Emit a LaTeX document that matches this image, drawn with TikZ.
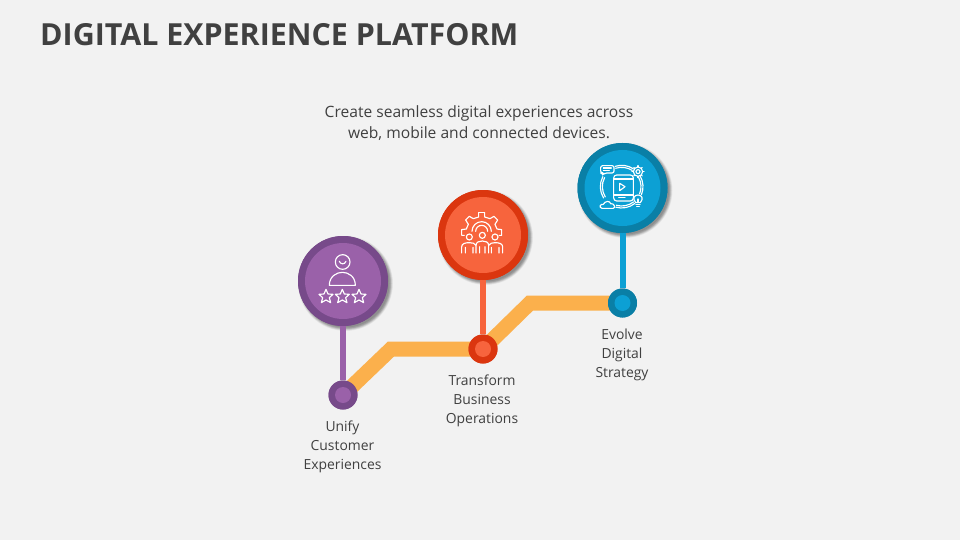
\documentclass[tikz,border=0pt]{standalone}
\usepackage{fontspec}
\setmainfont{Open Sans}
\usetikzlibrary{calc}
\definecolor{bgc}{HTML}{F2F2F2}
\definecolor{txt}{HTML}{404040}
\definecolor{pathc}{HTML}{FBB04C}
\definecolor{purO}{HTML}{774A8A}
\definecolor{purI}{HTML}{9A61A9}
\definecolor{redO}{HTML}{DB360F}
\definecolor{redI}{HTML}{F7643D}
\definecolor{bluO}{HTML}{0A7FA6}
\definecolor{bluI}{HTML}{0CA0D4}
\tikzset{
  bigo/.style={circle,fill=#1,minimum size=90pt,inner sep=0pt},
  bigi/.style={circle,fill=#1,minimum size=76pt,inner sep=0pt},
  smallo/.style={circle,fill=#1,minimum size=29pt,inner sep=0pt},
  smalli/.style={circle,fill=#1,minimum size=16pt,inner sep=0pt},
  stem/.style={line width=6pt,draw=#1},
  track/.style={line width=15pt,draw=pathc,line join=miter},
  lbl/.style={text=txt,font=\fontsize{13.9}{19}\selectfont,align=center,text width=110pt},
  ico/.style={draw=white,line width=1.15pt,line join=round,line cap=round},
  zoomgrid/.style={x=0.3333pt,y=-0.3333pt}
}
\newcommand{\softshadow}[3]{%
  \foreach \rr/\oo in {2.5/0.04,2/0.05,1.5/0.06,1/0.07,0.5/0.08,0/0.09,-1/0.1}{
    \fill[black,opacity=\oo] (#1+2.5,#2+2.5) circle[radius=#3+\rr];}}
\begin{document}
\begin{tikzpicture}[x=1pt,y=-1pt]
\useasboundingbox (0,0) rectangle (960,540);
\fill[bgc] (0,0) rectangle (960,540);
\node[anchor=base west,inner sep=0pt,text=txt,font=\fontsize{30.4}{36}\bfseries\selectfont] (title) at (40,45.5) {DIGITAL EXPERIENCE PLATFORM};
\node[anchor=center,inner sep=0pt,text=txt,font=\fontsize{15.6}{21}\selectfont,align=center] (intro) at (479,123.5) {Create seamless digital experiences across\\web, mobile and connected devices.};
% anchors
\coordinate (d1) at (343,395);
\coordinate (d2) at (483,349);
\coordinate (d3) at (622.5,303);
\coordinate (k1) at (391,349);
\coordinate (k2) at (530,303);
\draw[track] (d1) -- (k1) -- (d2) -- (k2) -- (d3);
% shadows
\softshadow{343}{281}{45}
\softshadow{483}{235}{45}
\softshadow{622.5}{188}{45}
% dots
\node[smallo=purO] (s1) at (d1) {};
\node[smallo=redO] (s2) at (d2) {};
\node[smallo=bluO] (s3) at (d3) {};
% circles
\node[bigo=purO] (b1) at (343,281) {};
\node[bigo=redO] (b2) at (483,235) {};
\node[bigo=bluO] (b3) at (622.5,188) {};
\draw[stem=purI] (b1) -- (s1);
\draw[stem=redI] (b2) -- (s2);
\draw[stem=bluI] (b3) -- (s3);
\node[bigo=purO] at (b1) {};
\node[bigo=redO] at (b2) {};
\node[bigo=bluO] at (b3) {};
\node[bigi=purI] at (b1) {};
\node[bigi=redI] at (b2) {};
\node[bigi=bluI] at (b3) {};
\node[smallo=purO] at (s1) {};
\node[smallo=redO] at (s2) {};
\node[smallo=bluO] at (s3) {};
\node[smalli=purI] at (s1) {};
\node[smalli=redI] at (s2) {};
\node[smalli=bluI] at (s3) {};
% labels
\node[lbl,anchor=north] (l1) at (342.5,417) {Unify\\Customer\\Experiences};
\node[lbl,anchor=north] (l2) at (482,371) {Transform\\Business\\Operations};
\node[lbl,anchor=north] (l3) at (622,325) {Evolve\\Digital\\Strategy};
% purple icon
\begin{scope}[shift={(290,228)},zoomgrid,ico]
\draw (158,102) circle[radius=22];
\draw (148,100) .. controls (152,110) and (164,110) .. (168,100);
\draw (118,172) .. controls (118,145) and (140,133) .. (157,133) .. controls (175,133) and (196,145) .. (196,172) -- cycle;
\foreach \cx in {108,157,207}{
  \draw (\cx,184) -- ++(6,14) -- ++(15,1) -- ++(-11,10) -- ++(4,15) -- ++(-14,-8) -- ++(-14,8) -- ++(4,-15) -- ++(-11,-10) -- ++(15,-1) -- cycle;
}
\end{scope}
% red icon
\begin{scope}[shift={(430,182)},zoomgrid,ico]
\draw (146,92) -- (146,105) -- (130,110) -- (118,103) -- (107,114) -- (115,127) -- (109,141) -- (95,143) -- (95,160) -- (103,160);
\draw (164,92) -- (164,105) -- (180,110) -- (192,103) -- (203,114) -- (195,127) -- (201,141) -- (215,143) -- (215,160) -- (207,160);
\draw (146,92) -- (164,92);
\draw (126,148) arc[start angle=180,end angle=360,radius=29];
\draw (137,148) arc[start angle=180,end angle=360,radius=18];
\foreach \cx/\cy in {118/165,157/160,195/165}{
  \draw (\cx,\cy) circle[radius=9];}
\draw (95,213) -- (95,195) .. controls (95,185) and (105,182) .. (118,182) .. controls (128,182) and (135,184) .. (138,190) (106,213) -- (106,196) (129,213) -- (129,196);
\draw (138,213) -- (138,190) .. controls (138,180) and (148,177) .. (157,177) .. controls (166,177) and (176,180) .. (176,190) -- (176,213) (149,213) -- (149,194) (165,213) -- (165,194);
\draw (176,190) .. controls (180,184) and (186,182) .. (195,182) .. controls (208,182) and (218,185) .. (218,195) -- (218,213) (184,213) -- (184,196) (207,213) -- (207,196);
\end{scope}
% blue icon
\begin{scope}[shift={(570,135)},zoomgrid,ico]
\coordinate (rc) at (155,155);
\foreach \ra in {64,58}{
  \foreach \sa/\ea in {-108/-57,-30/22,52/106,148/208}{
    \draw ($(rc)+(\sa:\ra)$) arc[start angle=\sa,end angle=\ea,radius=\ra];
  }
}
\draw[rounded corners=3pt] (131,120) rectangle (190,198);
\draw (131,132) -- (190,132) (131,180) -- (190,180);
\draw (146,188) -- (165,188);
\draw (149,145) -- (165,155) -- (149,167) -- cycle;
\draw[rounded corners=2pt] (92,92) -- (132,92) -- (132,114) -- (104,114) -- (98,119) -- (98,114) -- (92,114) -- cycle;
\draw (100,99) -- (124,99) (100,106) -- (118,106);
\draw (204,110) circle[radius=6];
\draw (204,110) circle[radius=14];
\foreach \a in {0,45,...,315}{\draw ($(204,110)+(\a:14)$) -- ($(204,110)+(\a:18)$);}
\draw (197,203) .. controls (186,190) and (193,180) .. (204,180) .. controls (215,180) and (222,190) .. (211,203) -- cycle;
\draw (198,209) -- (210,209) (200,215) -- (208,215);
\draw (204,192) -- (204,203);
\draw (96,220) .. controls (86,218) and (90,206) .. (100,208) .. controls (104,198) and (120,196) .. (122,206) .. controls (132,204) and (138,218) .. (130,220) -- cycle;
\end{scope}
\end{tikzpicture}
\end{document}
